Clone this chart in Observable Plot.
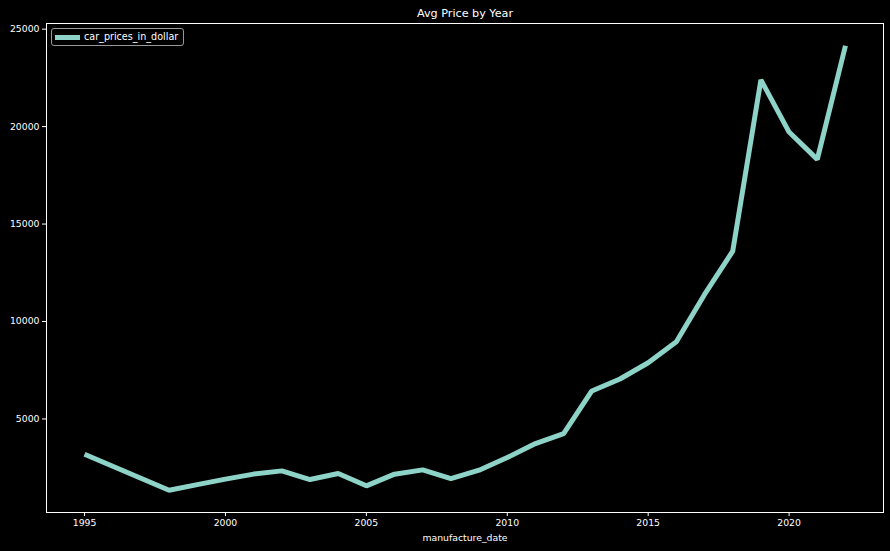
<!DOCTYPE html>
<html><head><meta charset="utf-8">
<script src="https://cdn.jsdelivr.net/npm/d3@7"></script>
<script src="https://cdn.jsdelivr.net/npm/@observablehq/plot@0.6"></script>
<style>
body{margin:0;background:#000;}
#chart{position:relative;width:890px;height:551px;background:#000;font-family:"DejaVu Sans",sans-serif;}
#legend{position:absolute;left:51px;top:28px;width:133px;height:18px;border:1px solid #999;border-radius:3px;background:rgba(0,0,0,0.8);box-sizing:border-box;}
#legend .sw{position:absolute;left:3px;top:6px;width:25px;height:5px;}
#legend .lb{position:absolute;left:32px;top:1px;font-size:9.6px;color:#fff;white-space:nowrap;line-height:14px;}
</style></head><body><div id="chart"></div>
<script>
const years = [1995,1996,1997,1998,1999,2000,2001,2002,2003,2004,2005,2006,2007,2008,2009,2010,2011,2012,2013,2014,2015,2016,2017,2018,2019,2020,2021,2022];
const prices = [3190,2570,1960,1340,1630,1910,2170,2336,1890,2198,1568,2167,2387,1935,2372,3018,3735,4247,6435,7050,7885,8960,11388,13607,22400,19720,18320,24150];
const xTicks = [1995,2000,2005,2010,2015,2020];
const yTicks = [5000,10000,15000,20000,25000];
const seriesName = "car_prices_in_dollar";
const title = "Avg Price by Year";
const xLabel = "manufacture_date";
const lineColor = "#8dd3c7";

const data = years.map((y, i) => ({year: y, price: prices[i]}));
const [xmin, xmax] = d3.extent(years);
const xpad = 0.05 * (xmax - xmin);
const [ymin, ymax] = d3.extent(prices);
const ypad = 0.05 * (ymax - ymin);

const plot = Plot.plot({
  width: 890,
  height: 551,
  marginLeft: 46,
  marginRight: 7,
  marginTop: 23,
  marginBottom: 39,
  style: {background: "#000", color: "#fff", fontFamily: "DejaVu Sans, sans-serif", fontSize: "9.3px"},
  x: {domain: [xmin - xpad, xmax + xpad]},
  y: {domain: [ymin - ypad, ymax + ypad]},
  marks: [
    Plot.line(data, {x: "year", y: "price", stroke: lineColor, strokeWidth: 5, strokeLinejoin: "miter", strokeLinecap: "butt"}),
    Plot.frame({stroke: "#fff", strokeWidth: 1}),
    Plot.axisX({ticks: xTicks, tickFormat: d => String(d), tickSize: 4, tickPadding: 3, label: null, stroke: "#fff", color: "#fff", fontSize: 9.3}),
    Plot.axisY({ticks: yTicks, tickFormat: d => String(d), tickSize: 4, tickPadding: 3, label: null, stroke: "#fff", color: "#fff", fontSize: 9.3}),
    Plot.text([title], {text: d => d, frameAnchor: "top", dy: -10, fill: "#fff", fontSize: 11.2, lineAnchor: "middle"}),
    Plot.text([xLabel], {text: d => d, frameAnchor: "bottom", dy: 26, fill: "#fff", fontSize: 9.3, lineAnchor: "middle"})
  ]
});
const chart = document.getElementById("chart");
chart.appendChild(plot);
const lg = document.createElement("div");
lg.id = "legend";
lg.innerHTML = `<div class="sw" style="background:${lineColor}"></div><div class="lb">${seriesName}</div>`;
chart.appendChild(lg);
</script></body></html>
